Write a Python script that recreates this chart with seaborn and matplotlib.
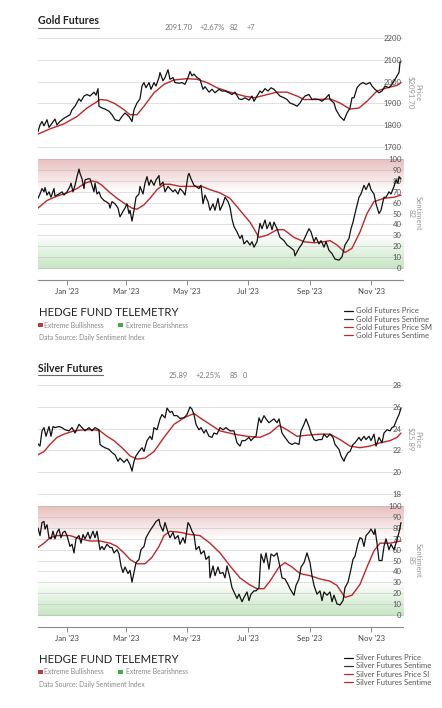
import numpy as np
import pandas as pd
import matplotlib
matplotlib.use('Agg')
import matplotlib.pyplot as plt
import matplotlib.dates as mdates
from matplotlib.colors import LinearSegmentedColormap
from matplotlib.lines import Line2D
from matplotlib.patches import Rectangle
import seaborn as sns

# ---- values; x = days from 2023-01-01 ----
gold_price_day = [-29, -27, -25, -23, -20, -18, -15, -12, -10, -7,
                  -3, 0, 3, 5, 8, 12, 14, 17, 20, 23,
                  27, 29, 31, 32, 35, 38, 42, 45, 48, 52,
                  55, 58, 62, 65, 67, 70, 73, 75, 77, 79,
                  82, 84, 87, 89, 92, 93, 96, 98, 101, 103,
                  106, 108, 112, 115, 118, 121, 123, 125, 127, 130,
                  133, 136, 138, 142, 145, 148, 152, 155, 158, 162,
                  165, 168, 172, 175, 178, 182, 185, 187, 190, 193,
                  195, 198, 201, 204, 207, 210, 213, 217, 220, 223,
                  227, 230, 233, 235, 238, 242, 245, 248, 252, 255,
                  258, 262, 263, 267, 269, 273, 277, 280, 283, 285,
                  287, 290, 293, 296, 299, 303, 305, 308, 312, 315,
                  318, 322, 325, 328, 330, 332, 333, 334]
gold_price = [1770, 1801, 1817, 1797, 1825, 1790, 1809, 1828, 1801, 1817,
              1832, 1840, 1848, 1871, 1887, 1921, 1910, 1934, 1941, 1934,
              1952, 1938, 1968, 1887, 1879, 1874, 1864, 1848, 1825, 1820,
              1840, 1856, 1840, 1817, 1871, 1902, 1921, 1980, 1996, 1972,
              1996, 1965, 1996, 1980, 2019, 2042, 2004, 2019, 2055, 2011,
              2019, 1996, 1993, 1996, 1988, 2019, 2047, 2027, 2035, 2019,
              2011, 1965, 1977, 1952, 1965, 1949, 1965, 1957, 1957, 1949,
              1941, 1952, 1921, 1918, 1926, 1915, 1934, 1910, 1934, 1957,
              1949, 1968, 1957, 1972, 1965, 1949, 1934, 1926, 1918, 1902,
              1895, 1887, 1902, 1918, 1934, 1941, 1918, 1921, 1918, 1910,
              1921, 1941, 1918, 1902, 1871, 1840, 1822, 1856, 1879, 1926,
              1926, 1972, 1988, 1996, 1988, 1996, 1980, 1965, 1949, 1957,
              1980, 1972, 1988, 2011, 2027, 2042, 2089, 2092]

gold_sma_day = [-29, -17, -3, 10, 20, 28, 33, 40, 48, 57,
                63, 70, 77, 87, 97, 107, 120, 130, 140, 150,
                163, 177, 187, 197, 210, 220, 230, 237, 250, 263,
                273, 283, 292, 300, 310, 320, 330, 334]
gold_sma = [1759, 1783, 1806, 1840, 1879, 1902, 1918, 1915, 1899, 1871,
            1848, 1848, 1887, 1949, 1988, 2008, 2014, 2011, 1996, 1972,
            1952, 1934, 1926, 1937, 1952, 1952, 1934, 1918, 1918, 1921,
            1902, 1874, 1879, 1910, 1957, 1972, 1983, 1996]

gold_sent_day = [-29, -27, -25, -23, -22, -20, -18, -16, -13, -12,
                 -8, -5, -3, 0, 3, 4, 6, 8, 10, 12,
                 13, 15, 17, 18, 21, 23, 25, 27, 28, 30,
                 32, 34, 37, 39, 42, 43, 45, 48, 51, 53,
                 56, 58, 60, 62, 63, 65, 67, 69, 72, 73,
                 76, 78, 80, 82, 84, 87, 89, 92, 93, 96,
                 98, 101, 103, 106, 108, 111, 113, 116, 118, 121,
                 122, 124, 127, 129, 132, 134, 136, 138, 141, 143,
                 146, 148, 151, 153, 156, 158, 161, 163, 165, 167,
                 170, 173, 175, 177, 180, 183, 185, 187, 190, 193,
                 195, 198, 200, 203, 205, 207, 210, 213, 217, 220,
                 223, 227, 228, 232, 235, 238, 242, 244, 247, 249,
                 252, 254, 257, 259, 262, 265, 268, 272, 275, 278,
                 282, 284, 286, 288, 292, 294, 297, 299, 302, 304,
                 307, 309, 312, 314, 317, 319, 322, 324, 327, 329,
                 331, 332, 334]
gold_sent = [64, 68, 73, 70, 74, 67, 70, 65, 73, 66,
             68, 70, 67, 70, 75, 78, 70, 76, 84, 91,
             87, 82, 73, 81, 82, 82, 76, 70, 78, 68,
             70, 65, 62, 61, 59, 55, 61, 59, 55, 47,
             52, 55, 59, 50, 53, 43, 53, 65, 68, 75,
             68, 78, 84, 76, 81, 76, 81, 85, 76, 79,
             70, 75, 73, 70, 72, 68, 73, 70, 67, 85,
             87, 82, 76, 75, 73, 76, 59, 67, 61, 53,
             59, 53, 64, 53, 59, 65, 61, 56, 45, 38,
             33, 27, 30, 22, 25, 21, 24, 19, 24, 41,
             36, 44, 36, 42, 35, 42, 36, 28, 25, 21,
             19, 16, 11, 18, 22, 28, 36, 33, 24, 28,
             22, 25, 19, 24, 16, 13, 8, 7, 10, 21,
             27, 36, 42, 50, 65, 68, 76, 72, 78, 72,
             68, 59, 50, 53, 65, 65, 70, 68, 75, 81,
             78, 84, 82]

gold_sent_sma_day = [-29, -20, -10, 0, 10, 18, 25, 30, 35, 42,
                     50, 58, 65, 70, 77, 83, 90, 97, 103, 113,
                     127, 135, 143, 153, 163, 173, 183, 192, 200, 210,
                     217, 227, 237, 247, 257, 263, 270, 278, 285, 293,
                     300, 307, 317, 327, 334]
gold_sent_sma = [55, 62, 66, 69, 73, 78, 80, 79, 76, 70,
                 64, 59, 55, 54, 58, 64, 72, 77, 77, 75,
                 75, 75, 72, 69, 64, 53, 42, 28, 30, 35,
                 35, 28, 24, 23, 24, 25, 21, 14, 18, 33,
                 50, 61, 64, 65, 67]

silver_price_day = [-29, -27, -25, -23, -21, -18, -16, -14, -12, -8,
                    -5, -2, 2, 5, 8, 12, 15, 18, 22, 25,
                    28, 32, 33, 35, 38, 42, 45, 48, 51, 53,
                    57, 60, 63, 65, 67, 69, 72, 75, 77, 80,
                    83, 85, 87, 90, 93, 95, 98, 100, 103, 105,
                    107, 110, 113, 117, 120, 123, 125, 127, 129, 132,
                    134, 137, 139, 142, 145, 147, 150, 153, 156, 159,
                    163, 167, 170, 173, 175, 178, 182, 184, 187, 189,
                    192, 194, 197, 199, 202, 204, 207, 210, 212, 215,
                    218, 222, 225, 228, 232, 234, 237, 239, 242, 244,
                    247, 249, 252, 255, 257, 260, 263, 266, 268, 272,
                    274, 277, 278, 281, 283, 286, 288, 292, 294, 297,
                    299, 302, 304, 307, 309, 312, 315, 317, 320, 323,
                    325, 327, 330, 332, 334]
silver_price = [22.6, 22.4, 23.8, 24.1, 23.3, 24.2, 23.3, 24.2, 24.1, 24.2,
                24.1, 23.9, 23.8, 24.1, 23.6, 24.4, 24.1, 23.8, 24.1, 23.8,
                24.1, 23.9, 22.55, 22.4, 22.25, 22.1, 21.8, 21.6, 21.0, 21.3,
                20.9, 21.2, 20.7, 20.1, 21.0, 21.5, 21.9, 22.25, 21.9, 22.9,
                23.3, 23.0, 24.1, 23.9, 24.9, 25.3, 25.0, 25.9, 25.5, 25.6,
                25.2, 25.2, 24.95, 25.0, 25.3, 26.0, 25.8, 25.3, 24.4, 23.9,
                24.1, 23.6, 23.9, 23.3, 23.2, 23.6, 23.5, 24.1, 23.9, 24.1,
                23.8, 23.8, 22.7, 22.4, 22.9, 22.9, 23.2, 22.9, 23.2, 23.3,
                25.0, 24.55, 25.2, 24.9, 24.55, 24.7, 24.9, 24.55, 24.9, 23.6,
                23.2, 22.7, 22.55, 22.7, 22.55, 23.8, 24.4, 24.9, 24.2, 23.6,
                23.0, 22.9, 23.0, 23.0, 23.5, 23.2, 23.5, 23.2, 22.55, 22.1,
                21.5, 21.0, 21.3, 21.8, 21.9, 22.55, 22.7, 23.2, 22.9, 23.3,
                23.0, 23.3, 22.9, 23.5, 22.4, 23.2, 22.7, 23.6, 23.9, 23.8,
                24.1, 24.2, 24.9, 25.3, 25.89]

silver_sma_day = [-29, -23, -17, -10, -3, 7, 17, 27, 33, 40,
                  47, 55, 63, 70, 78, 87, 97, 107, 117, 127,
                  133, 143, 153, 167, 180, 193, 203, 212, 220, 230,
                  240, 253, 263, 273, 283, 293, 303, 313, 323, 330,
                  334]
silver_sma = [21.6, 21.9, 22.55, 23.2, 23.5, 23.8, 23.9, 23.9, 23.8, 23.3,
              22.9, 22.25, 21.5, 21.2, 21.3, 21.9, 23.2, 24.4, 25.0, 25.4,
              25.0, 24.4, 23.8, 23.5, 23.3, 23.2, 23.6, 24.3, 23.9, 23.3,
              23.4, 23.5, 23.5, 23.0, 22.4, 22.25, 22.4, 22.7, 22.9, 23.2,
              23.6]

silver_sent_day = [-29, -27, -25, -23, -22, -20, -18, -16, -14, -12,
                   -10, -8, -6, -4, -2, 0, 3, 5, 7, 9,
                   12, 14, 16, 18, 21, 23, 26, 28, 30, 33,
                   35, 37, 40, 43, 45, 47, 50, 52, 54, 56,
                   58, 61, 63, 65, 67, 69, 72, 74, 77, 79,
                   82, 84, 87, 89, 92, 93, 96, 98, 101, 103,
                   106, 108, 111, 113, 116, 118, 121, 123, 125, 127,
                   129, 132, 134, 137, 139, 142, 143, 146, 148, 151,
                   153, 156, 158, 160, 163, 165, 167, 170, 172, 175,
                   177, 180, 182, 184, 187, 189, 192, 194, 197, 199,
                   202, 204, 207, 210, 213, 215, 218, 221, 223, 227,
                   229, 232, 234, 237, 240, 243, 245, 247, 250, 253,
                   255, 257, 260, 263, 265, 267, 270, 273, 276, 278,
                   281, 283, 286, 288, 291, 293, 295, 297, 299, 302,
                   304, 307, 308, 310, 312, 315, 317, 319, 322, 324,
                   327, 329, 332, 334]
silver_sent = [80, 73, 85, 86, 79, 83, 71, 70, 77, 70,
               76, 79, 71, 76, 77, 73, 63, 65, 57, 70,
               73, 66, 74, 70, 76, 70, 77, 71, 77, 60,
               63, 60, 65, 62, 62, 57, 60, 56, 45, 39,
               44, 38, 41, 30, 39, 48, 51, 60, 63, 71,
               76, 79, 83, 86, 88, 83, 77, 85, 76, 71,
               76, 70, 73, 65, 71, 66, 85, 82, 77, 74,
               60, 63, 56, 59, 51, 54, 34, 45, 36, 44,
               38, 39, 34, 45, 34, 25, 21, 15, 19, 12,
               16, 21, 13, 19, 22, 22, 25, 56, 48, 57,
               42, 56, 54, 57, 44, 34, 33, 28, 24, 18,
               27, 33, 44, 48, 57, 48, 36, 27, 19, 22,
               13, 21, 18, 21, 12, 18, 10, 9, 13, 25,
               30, 38, 51, 54, 66, 71, 70, 63, 73, 76,
               79, 74, 79, 66, 50, 50, 63, 70, 60, 65,
               60, 66, 76, 85]

silver_sent_sma_day = [-29, -23, -17, -10, -3, 3, 13, 23, 33, 43,
                       50, 57, 63, 70, 78, 85, 92, 97, 103, 113,
                       123, 133, 143, 153, 163, 173, 182, 190, 197, 203,
                       212, 218, 225, 233, 243, 253, 263, 270, 278, 285,
                       293, 300, 307, 313, 323, 334]
silver_sent_sma = [62, 66, 71, 73, 73, 73, 70, 68, 68, 66,
                   63, 57, 51, 47, 47, 53, 63, 73, 77, 76,
                   74, 73, 66, 57, 45, 34, 28, 24, 24, 31,
                   44, 48, 44, 38, 36, 33, 31, 27, 16, 18,
                   28, 44, 59, 66, 66, 68]

# legend captions as they show in the chart (cut short at the right edge)
gold_legend = ['Gold Futures Price', 'Gold Futures Sentime',
               'Gold Futures Price SM', 'Gold Futures Sentime']
silver_legend = ['Silver Futures Price', 'Silver Futures Sentime',
                 'Silver Futures Price SI', 'Silver Futures Sentime']

# ---- style ----
sns.set_style('white')
plt.rcParams['font.family'] = ['Lato', 'DejaVu Sans']

RED = '#c0272d'
BLACK = '#111111'
GRID = '#a8a8a8'
LABEL = '#555555'
START = pd.Timestamp('2023-01-01')

W, H = 442, 708
fig = plt.figure(figsize=(W / 100, H / 100), dpi=100)


def to_dates(days):
    return START + pd.to_timedelta(days, unit='D')


def fx(px):
    return px / W


def fy(py):
    return 1 - py / H


def band(ax, lo, hi, color, strong_top):
    cmap = LinearSegmentedColormap.from_list('band', ['white', color])
    grad = np.linspace(0, 1, 64).reshape(-1, 1)
    if not strong_top:
        grad = grad[::-1]
    ax.imshow(grad, cmap=cmap, aspect='auto', origin='lower',
              extent=[0, 1, lo, hi], transform=ax.get_yaxis_transform(),
              interpolation='bilinear', zorder=0)


def style_axis(ax, ticks, lim):
    ax.set_ylim(*lim)
    ax.set_yticks(ticks)
    ax.yaxis.tick_right()
    ax.tick_params(axis='y', length=0, pad=-1, labelsize=5.6, labelcolor=LABEL)
    plt.setp(ax.get_yticklabels(), ha='right')
    ax.grid(axis='y', linestyle=(0, (1, 1.4)), color=GRID, lw=0.6)
    ax.grid(axis='x', visible=False)
    ax.set_xlabel('')
    ax.set_ylabel('')
    for s in ax.spines.values():
        s.set_visible(False)


def panel(off, name, stats, stat_x, price_text, sent_text, underline_end, legend,
          p_day, p_val, ps_day, ps_val, s_day, s_val, ss_day, ss_val,
          p_ticks, p_lim):
    left, width = fx(37.7), (403 - 37.7) / W
    ax_p = fig.add_axes([left, fy(153 + off), width, 120 / H])
    ax_s = fig.add_axes([left, fy(280 + off), width, 127 / H])

    sns.lineplot(x=to_dates(p_day), y=p_val, ax=ax_p, color=BLACK, lw=0.9,
                 estimator=None, zorder=3)
    sns.lineplot(x=to_dates(ps_day), y=ps_val, ax=ax_p, color=RED, lw=1.0,
                 estimator=None, zorder=2)

    band(ax_s, 70, 100, '#e9c0c0', True)
    band(ax_s, -1, 31, '#c6e5c3', False)
    sns.lineplot(x=to_dates(s_day), y=s_val, ax=ax_s, color=BLACK, lw=0.9,
                 estimator=None, zorder=3)
    sns.lineplot(x=to_dates(ss_day), y=ss_val, ax=ax_s, color=RED, lw=1.0,
                 estimator=None, zorder=2)

    xlim = to_dates([-29.3, 336])
    for ax in (ax_p, ax_s):
        ax.set_xlim(xlim[0], xlim[1])
    style_axis(ax_p, p_ticks, p_lim)
    style_axis(ax_s, range(0, 101, 10), (-11.3, 105.8))

    ax_p.tick_params(axis='x', bottom=False, labelbottom=False)
    ax_s.spines['bottom'].set_visible(True)
    ax_s.spines['bottom'].set_color('#8a8a8a')
    ax_s.spines['bottom'].set_linewidth(0.8)
    ax_s.xaxis.set_major_locator(mdates.MonthLocator(bymonth=[1, 3, 5, 7, 9, 11]))
    ax_s.xaxis.set_major_formatter(mdates.DateFormatter("%b '%y"))
    ax_s.tick_params(axis='x', bottom=True, length=3.5, width=0.7, color='#8a8a8a',
                     pad=2.5, labelsize=5.6, labelcolor='#444444')

    # header
    fig.text(fx(38), fy(21 + off), name, fontsize=7.6, fontweight='bold',
             color='#222222', va='center', ha='left')
    fig.add_artist(Line2D([fx(38), fx(underline_end)], [fy(28.3 + off)] * 2,
                          color='#666666', lw=0.8))
    for s, x in zip(stats, stat_x):
        fig.text(fx(x), fy(28 + off), s, fontsize=5.4, color='#777777',
                 va='center', ha='left')

    # right-hand side labels
    fig.text(fx(414), fy(92.5 + off), price_text, rotation=270, fontsize=5.6,
             color='#999999', ha='center', va='center', multialignment='center',
             linespacing=1.0)
    fig.text(fx(415), fy(213.5 + off), sent_text, rotation=270, fontsize=5.6,
             color='#999999', ha='center', va='center', multialignment='center',
             linespacing=1.0)

    # footer
    fig.text(fx(39), fy(312.5 + off), 'HEDGE FUND TELEMETRY', fontsize=8.2,
             color='#222222', va='center', ha='left')
    fig.add_artist(Rectangle((fx(37.8), fy(327.3 + off)), 4.8 / W, 4.6 / H,
                             facecolor='#c0393b', edgecolor='none'))
    fig.text(fx(44.5), fy(325 + off), 'Extreme Bullishness', fontsize=4.9,
             color='#888888', va='center', ha='left')
    fig.add_artist(Rectangle((fx(118.3), fy(327.3 + off)), 4.8 / W, 4.6 / H,
                             facecolor='#3fae49', edgecolor='none'))
    fig.text(fx(125.5), fy(325 + off), 'Extreme Bearishness', fontsize=4.9,
             color='#888888', va='center', ha='left')
    fig.text(fx(39.3), fy(337.3 + off), 'Data Source: Daily Sentiment Index',
             fontsize=4.9, color='#888888', va='center', ha='left')

    # series legend
    colors = [BLACK, '#333333', RED, RED]
    for lab, col, y in zip(legend, colors, [310.7, 319, 327.2, 335.4]):
        fig.add_artist(Line2D([fx(344), fx(352.5)], [fy(y + off)] * 2,
                              color=col, lw=0.9))
        fig.text(fx(356), fy(y + off), lab, fontsize=5.5, color='#555555',
                 va='center', ha='left')


panel(0, 'Gold Futures', ['2091.70', '+2.67%', '82', '+7'], [165, 200, 230, 247],
      'Price\n$2091.70', 'Sentiment\n82', 99, gold_legend,
      gold_price_day, gold_price, gold_sma_day, gold_sma,
      gold_sent_day, gold_sent, gold_sent_sma_day, gold_sent_sma,
      range(1700, 2201, 100), (1672, 2224))

panel(347, 'Silver Futures', ['25.89', '+2.25%', '85', '0'], [169, 196, 230, 243],
      'Price\n$25.89', 'Sentiment\n85', 103, silver_legend,
      silver_price_day, silver_price, silver_sma_day, silver_sma,
      silver_sent_day, silver_sent, silver_sent_sma_day, silver_sent_sma,
      range(18, 29, 2), (17.44, 28.48))

fig.savefig('out.png', dpi=100, facecolor='white')
